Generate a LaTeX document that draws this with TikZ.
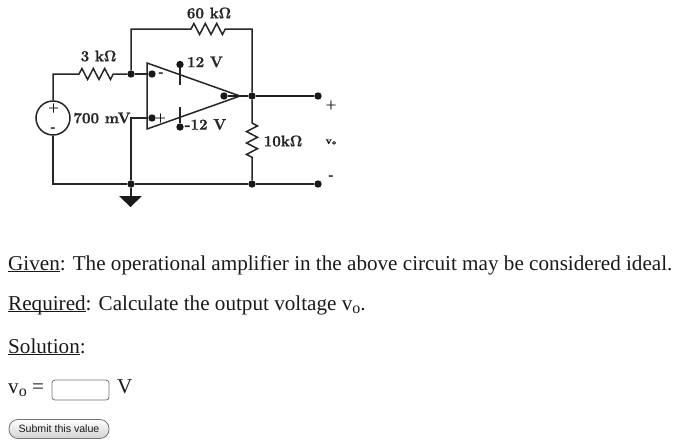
\documentclass[tikz,border=0pt]{standalone}
\usepackage{fontspec}
\usetikzlibrary{calc,shadings}
\newfontfamily\timesf{Liberation Serif}
\newfontfamily\arialf{Liberation Sans}
\newfontfamily\cirf[BoldFeatures={FakeBold=1.2}]{Latin Modern Roman}
\newcommand{\ul}[1]{\underline{\smash{#1}\vphantom{x}}}
\tikzset{
  wire/.style={line width=1.5pt,draw=black!85,line join=miter},
  thick wire/.style={line width=2pt,draw=black!88},
  dot/.style={circle,fill=black!90,inner sep=0pt,minimum size=7.4pt},
  cirlabel/.style={font=\cirf\bfseries\fontsize{15.2}{17}\selectfont,text=black!85,inner sep=0pt},
  cirsmall/.style={font=\cirf\bfseries\fontsize{12}{13}\selectfont,text=black!90,inner sep=0pt},
  body/.style={font=\timesf\fontsize{21.15}{24}\selectfont,text=black!90,inner sep=0pt,anchor=base west},
}
\newcommand{\zigh}{-- ++(2.9,-5.5) -- ++(5.7,11) -- ++(5.7,-11) -- ++(5.7,11) -- ++(5.7,-11) -- ++(5.7,11) -- ++(2.9,-5.5)}
\newcommand{\zigv}{-- ++(5.5,2.9) -- ++(-11,5.7) -- ++(11,5.7) -- ++(-11,5.7) -- ++(11,5.7) -- ++(-11,5.7) -- ++(5.5,2.9)}
\begin{document}
\begin{tikzpicture}[x=1pt,y=-1pt]
\useasboundingbox (0,0) rectangle (700,445);
% points
\coordinate (srcT) at (53,74);
\coordinate (srcB) at (53,184);
\node[circle,wire,draw,minimum size=34pt,inner sep=0pt,fill=white] (src) at (53,118) {};
\coordinate (r3a) at (79,74);
\coordinate (r3b) at (114,74);
\node[dot] (nInv) at (131,74) {};
\coordinate (fbT) at (131,29);
\coordinate (r60a) at (191,29);
\coordinate (r60b) at (226,29);
\coordinate (fbR) at (252,29);
\node[dot] (nOut) at (252,96) {};
\node[dot] (tOut) at (318,96) {};
\coordinate (r10a) at (252,123);
\coordinate (r10b) at (252,157.5);
\node[dot] (nBR) at (252,184) {};
\node[dot] (tBot) at (318,184) {};
\node[dot] (nBM) at (131,184) {};
\coordinate (plusB) at (131,118);
\node[dot] (pInv) at (152,74) {};
\node[dot] (pNon) at (152,118) {};
\node[dot] (pOut) at (224,96) {};
\coordinate (oaTL) at (147,63);
\coordinate (oaBL) at (147,129);
\coordinate (oaTip) at (240,96);
\node[dot] (vP) at (180,64.5) {};
\coordinate (vPe) at (180,85);
\node[dot] (vN) at (180,127) {};
\coordinate (vNe) at (180,107);
\coordinate (gT) at (131,197);
\coordinate (gL) at (119,196);
\coordinate (gR) at (142,196);
\coordinate (gB) at (130.5,207);
% wires
\draw[wire] (src.north) -- (srcT) -- (r3a) \zigh -- (nInv);
\draw[wire] (nInv) -- (pInv);
\draw[wire] (nInv) -- (fbT) -- (r60a) \zigh -- (fbR) -- (nOut);
\draw[wire] (nOut) -- (r10a) \zigv -- (nBR);
\draw[wire] (src.south) -- (srcB) -- (nBM) -- (nBR) -- (tBot);
\draw[wire] (nBM) -- (plusB) -- (pNon);
\draw[wire] (nBM) -- (gT);
\draw[thick wire] (nOut) -- (tOut);
\draw[thick wire] (pOut) -- (oaTip) -- (nOut);
\draw[wire] (oaTL) -- (oaTip) -- (oaBL) -- cycle;
\draw[wire] (vP) -- (vPe);
\draw[wire] (vN) -- (vNe);
\fill[black!90] (gL) -- (gR) -- (gB) -- cycle;
% labels
\node[cirlabel] (l60) at (209,13) {60 kΩ};
\node[cirlabel] (l3) at (98.5,56) {3 kΩ};
\node[cirlabel] (l12) at (205,62) {12 V};
\node[cirlabel] (lm12) at (205.5,124.5) {-12 V};
\node[cirlabel] (l700) at (102,118) {700 mV};
\node[cirlabel] (l10) at (283,141) {10kΩ};
\node[cirsmall,font=\cirf\bfseries\fontsize{10}{10}\selectfont] (lvo) at (331,142) {v\raisebox{-0.5pt}{\fontsize{7}{7}\selectfont o}};
\node[cirsmall] (lplus) at (331,105) {+};
\node[cirsmall] (lminus) at (331,177) {-};
\node[cirsmall] (sP) at (53.5,108) {+};
\node[cirsmall] (sM) at (53,129) {-};
\node[cirsmall] (oM) at (161,74) {-};
\node[cirsmall] (oP) at (160.5,118) {+};
% text
\node[body] (given) at (8,270) {\ul{Given}: The operational amplifier in the above circuit may be considered ideal.};
\node[body] (req) at (8,310) {\ul{Required}: Calculate the output voltage v\raisebox{-3.5pt}{\fontsize{16}{17}\selectfont o}.};
\node[body] (sol) at (8,353) {\ul{Solution}:};
\node[body] (vo) at (8,393) {v\raisebox{-3.5pt}{\fontsize{16}{17}\selectfont o} =};
\node[draw=black!55,line width=0.8pt,rounded corners=3pt,fill=white,minimum width=57pt,minimum height=20pt,inner sep=0pt] (box) at (80.5,390) {};
\node[body] (volt) at (117,393) {V};
\node[draw=black!55,line width=0.8pt,rounded corners=9pt,top color=white,bottom color=black!18,minimum width=100pt,minimum height=19pt,inner sep=0pt,font=\arialf\fontsize{10.6}{12}\selectfont,text=black!90] (btn) at (59,429) {Submit this value};
\end{tikzpicture}
\end{document}
